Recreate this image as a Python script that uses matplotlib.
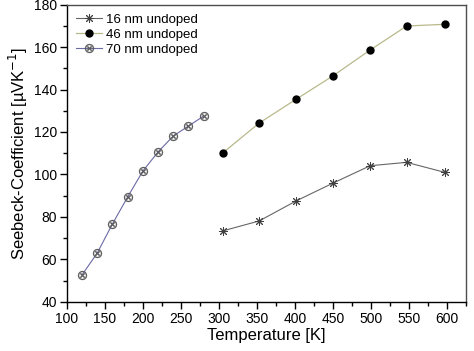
import matplotlib

matplotlib.use("Agg")
import matplotlib.pyplot as plt
from matplotlib.ticker import MultipleLocator

plt.rcParams["font.family"] = ["Liberation Sans", "DejaVu Sans"]

# values
t_16 = [305, 353, 402, 450, 499, 547, 597]
s_16 = [73.4, 78.1, 87.6, 95.9, 104.1, 105.7, 101.0]

t_46 = [305, 353, 402, 450, 499, 547, 597]
s_46 = [110.1, 124.2, 135.5, 146.4, 158.6, 169.9, 170.7]

t_70 = [120, 140, 160, 180, 200, 220, 240, 260, 280]
s_70 = [52.7, 63.0, 76.7, 89.4, 101.6, 110.6, 118.1, 122.8, 127.5]

fig = plt.figure(figsize=(4.74, 3.51), dpi=100)
ax = fig.add_axes([0.141, 0.140, 0.842, 0.847])

ax.plot(t_16, s_16, color="0.4", lw=0.8, marker=(8, 2, 0), ms=6.5,
        mec="0.25", mew=0.7, label="16 nm undoped")
ax.plot(t_46, s_46, color="#b9b98c", lw=0.9, marker="o", ms=5,
        mfc="black", mec="black", label="46 nm undoped")
ax.plot(t_70, s_70, color="#6a6aa4", lw=0.8, marker="$\\otimes$", ms=6.5,
        mec="0.35", mfc="0.35", mew=0.2, label="70 nm undoped")

ax.set_xlim(100, 625)
ax.set_ylim(40, 180)
ax.xaxis.set_major_locator(MultipleLocator(50))
ax.xaxis.set_minor_locator(MultipleLocator(25))
ax.yaxis.set_major_locator(MultipleLocator(20))
ax.yaxis.set_minor_locator(MultipleLocator(10))
ax.tick_params(which="major", length=5, width=1, labelsize=10, direction="out", pad=2)
ax.tick_params(which="minor", length=3, width=1, direction="out")
for sp in ax.spines.values():
    sp.set_color("0.3")
    sp.set_linewidth(1.0)
ax.spines["left"].set_color("black")
ax.spines["bottom"].set_color("black")

ax.set_xlabel("Temperature [K]", fontsize=12, labelpad=2)
ax.set_ylabel("Seebeck-Coefficient [\u00b5VK$^{-1}$]", fontsize=12, labelpad=3)

ax.legend(loc="upper left", frameon=False, fontsize=9.5, handlelength=2.0,
          handletextpad=0.3, labelspacing=0.2, borderaxespad=0.3)

fig.savefig("out.png", dpi=100)
